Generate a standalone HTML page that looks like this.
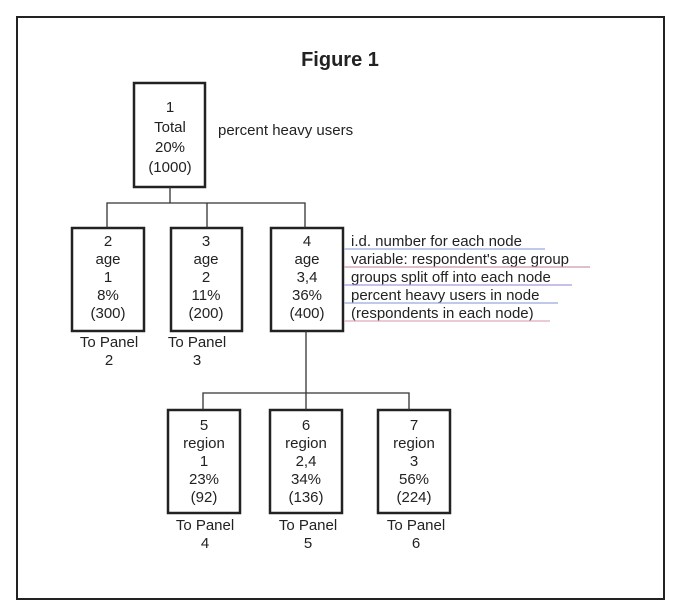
<!DOCTYPE html>
<html><head><style>body{margin:0;background:#fff}svg{display:block}text{font-family:"Liberation Sans",sans-serif;font-size:15px;fill:#222}</style></head>
<body>
<svg width="675" height="613" viewBox="0 0 675 613" xmlns="http://www.w3.org/2000/svg">
<rect x="17" y="17" width="647" height="582" fill="none" stroke="#222" stroke-width="2"/>
<text x="340" y="66" text-anchor="middle" style="font-size:20px;font-weight:bold">Figure  1</text>
<g fill="none" stroke="#222" stroke-width="2.5">
<rect x="134" y="83" width="71" height="104"/>
<rect x="72" y="228" width="72" height="103"/>
<rect x="171" y="228" width="71" height="103"/>
<rect x="271" y="228" width="72" height="103"/>
<rect x="168" y="410" width="72" height="103"/>
<rect x="270" y="410" width="72" height="103"/>
<rect x="378" y="410" width="72" height="103"/>
</g>
<g fill="none" stroke="#333" stroke-width="1.3">
<path d="M170 187V203M107 228V203H305V228M207 203V228"/>
<path d="M306 331V410M203 410V393H409V410"/>
</g>
<g text-anchor="middle">
<text x="170" y="112">1</text><text x="170" y="132">Total</text><text x="170" y="152">20%</text><text x="170" y="172">(1000)</text>
<text x="108" y="246">2</text><text x="108" y="264">age</text><text x="108" y="282">1</text><text x="108" y="300">8%</text><text x="108" y="318">(300)</text>
<text x="206" y="246">3</text><text x="206" y="264">age</text><text x="206" y="282">2</text><text x="206" y="300">11%</text><text x="206" y="318">(200)</text>
<text x="307" y="246">4</text><text x="307" y="264">age</text><text x="307" y="282">3,4</text><text x="307" y="300">36%</text><text x="307" y="318">(400)</text>
<text x="204" y="430">5</text><text x="204" y="448">region</text><text x="204" y="466">1</text><text x="204" y="484">23%</text><text x="204" y="502">(92)</text>
<text x="306" y="430">6</text><text x="306" y="448">region</text><text x="306" y="466">2,4</text><text x="306" y="484">34%</text><text x="306" y="502">(136)</text>
<text x="414" y="430">7</text><text x="414" y="448">region</text><text x="414" y="466">3</text><text x="414" y="484">56%</text><text x="414" y="502">(224)</text>
<text x="109" y="347">To Panel</text><text x="109" y="365">2</text>
<text x="197" y="347">To Panel</text><text x="197" y="365">3</text>
<text x="205" y="530">To Panel</text><text x="205" y="548">4</text>
<text x="308" y="530">To Panel</text><text x="308" y="548">5</text>
<text x="416" y="530">To Panel</text><text x="416" y="548">6</text>
</g>
<text x="218" y="135">percent heavy users</text>
<g>
<text x="351" y="246">i.d. number for each node</text>
<text x="351" y="264">variable: respondent's age group</text>
<text x="351" y="282">groups split off into each node</text>
<text x="351" y="300">percent heavy users in node</text>
<text x="351" y="318">(respondents in each node)</text>
</g>
<g stroke-width="1.2">
<path d="M344 249H545" stroke="#9ad"/>
<path d="M344 267H590" stroke="#c9a"/>
<path d="M344 285H572" stroke="#a9d"/>
<path d="M344 303H558" stroke="#9ad"/>
<path d="M344 321H550" stroke="#dab"/>
</g>
</svg>
</body></html>
